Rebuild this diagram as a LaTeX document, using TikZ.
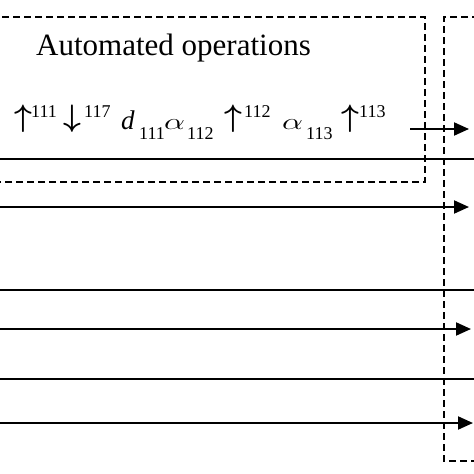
\RequirePackage{fix-cm}
\documentclass[tikz,border=0pt]{standalone}
\usepackage{fontspec}
\setmainfont{Liberation Serif}
\usetikzlibrary{arrows.meta}
\begin{document}
\begin{tikzpicture}[x=1pt,y=-1pt,
  boxline/.style={line width=1.8pt,dash pattern=on 7pt off 4pt},
  flow/.style={line width=2pt},
  flowarrow/.style={line width=2pt,-{Triangle[length=15pt,width=13pt]}},
  arrowsym/.style={anchor=base west,inner sep=0pt,font=\fontsize{31}{31}\selectfont\boldmath},
  mainsym/.style={anchor=base west,inner sep=0pt,font=\fontsize{27}{27}\selectfont\itshape},
  greeksym/.style={anchor=base west,inner sep=0pt,font=\fontsize{23}{23}\selectfont},
  script/.style={anchor=base west,inner sep=0pt,font=\fontsize{18}{18}\selectfont},
  title/.style={anchor=base west,inner sep=0pt,font=\fontsize{31}{31}\selectfont}]
\useasboundingbox (0,0) rectangle (474,474);
\begin{scope}
\clip (0,0) rectangle (474,474);
% dashed boxes
\draw[boxline] (-20,17) -- (425,17) -- (425,182) -- (-20,182);
\draw[boxline] (490,17) -- (444,17) -- (444,461) -- (490,461);
% coordinates
\coordinate (a1s) at (410,129); \coordinate (a1e) at (469,129);
\coordinate (l1s) at (-5,159);  \coordinate (l1e) at (480,159);
\coordinate (a2s) at (-5,207);  \coordinate (a2e) at (469,207);
\coordinate (l2s) at (-5,290);  \coordinate (l2e) at (480,290);
\coordinate (a3s) at (-5,329);  \coordinate (a3e) at (471,329);
\coordinate (l3s) at (-5,379);  \coordinate (l3e) at (480,379);
\coordinate (a4s) at (-5,423);  \coordinate (a4e) at (473,423);
\draw[flowarrow] (a1s) -- (a1e);
\draw[flow] (l1s) -- (l1e);
\draw[flowarrow] (a2s) -- (a2e);
\draw[flow] (l2s) -- (l2e);
\draw[flowarrow] (a3s) -- (a3e);
\draw[flow] (l3s) -- (l3e);
\draw[flowarrow] (a4s) -- (a4e);
\end{scope}
% title
\node[title] (ttl) at (36,55) {Automated operations};
% formula pieces
\node[arrowsym] (u1) at (14,126) {$\uparrow$};
\node[script]  (s1) at (31,117) {111};
\node[arrowsym] (d1) at (63,126) {$\downarrow$};
\node[script]  (s2) at (84,117) {117};
\node[mainsym] (dd) at (121,129) {d};
\node[script]  (b1) at (139,139) {111};
\node[greeksym] (al1) at (164,129) {\scalebox{1.45}[1]{$\alpha$}};
\node[script]  (b2) at (187,139) {112};
\node[arrowsym] (u2) at (224,126) {$\uparrow$};
\node[script]  (s3) at (244,117) {112};
\node[greeksym] (al2) at (282,129) {\scalebox{1.45}[1]{$\alpha$}};
\node[script]  (b3) at (306,139) {113};
\node[arrowsym] (u3) at (341,126) {$\uparrow$};
\node[script]  (s4) at (359,117) {113};
\end{tikzpicture}
\end{document}
